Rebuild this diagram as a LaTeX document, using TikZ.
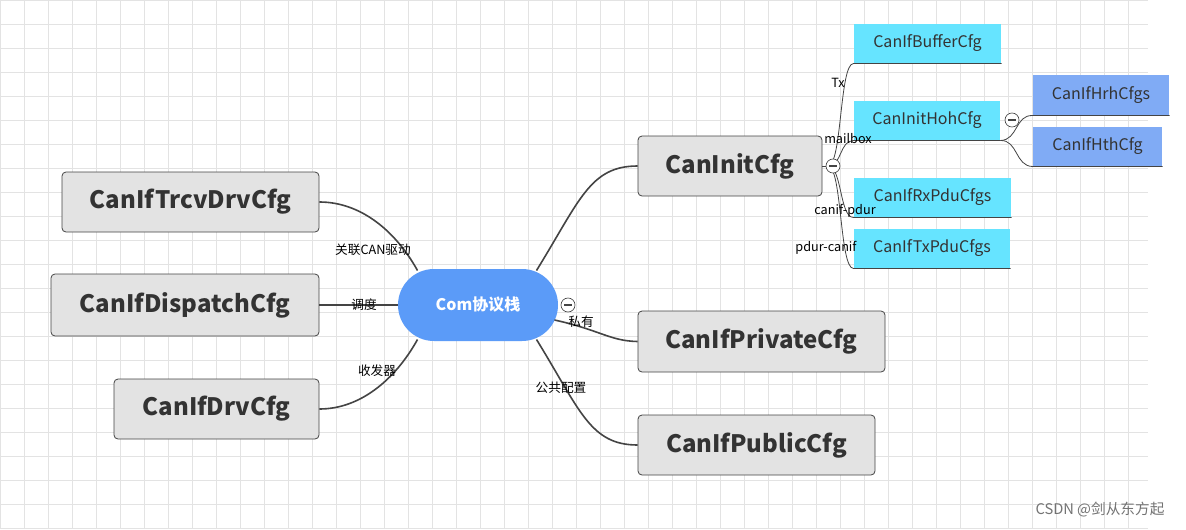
\documentclass[tikz,border=0pt]{standalone}
\usepackage{fontspec}
\setmainfont{Noto Sans CJK SC}
\usetikzlibrary{calc}
\tikzset{every picture/.style={line width=0.75pt}}
\definecolor{gridc}{HTML}{E3E3E3}
\definecolor{rootc}{HTML}{5B9BF8}
\definecolor{greyc}{HTML}{E3E3E3}
\definecolor{cyanc}{HTML}{66E4FF}
\definecolor{bluec}{HTML}{80ABF5}
\definecolor{linec}{HTML}{444444}
\tikzset{
  big/.style={draw=linec,fill=greyc,rounded corners=3pt,line width=0.6pt,inner sep=0pt,font=\fontsize{18}{20}\selectfont\bfseries,text=black!80},
  leaf/.style={fill=#1,inner sep=0pt,font=\fontsize{12}{14}\selectfont,text=black!80},
  lab/.style={inner sep=0.75pt,font=\fontsize{9.5}{11}\selectfont},
  fold/.style={draw=linec,fill=white,circle,minimum size=10.5pt,inner sep=0pt,line width=0.5pt},
  link/.style={draw=linec,line width=1.2pt},
  thin/.style={draw=linec,line width=0.6pt}
}
\begin{document}
\begin{tikzpicture}[x=0.75pt,y=0.75pt,yscale=-1,xscale=1]
\useasboundingbox (0,0) rectangle (1186,529);
%grid background
\fill[white] (0,0) rectangle (1186,529);
\draw[gridc,line width=0.5pt,step=18pt] (0,0) grid (1148,529);
%root
\node[fill=rootc,rounded corners=36*0.75pt,minimum width=120pt,minimum height=54pt,text=white,font=\fontsize{12}{14}\selectfont\bfseries] (com) at (478,305) {Com协议栈};
%left branch
\node[big,minimum width=192.75pt,minimum height=45pt] (trcv) at (190.5,202) {CanIfTrcvDrvCfg};
\node[big,minimum width=201pt,minimum height=46.5pt] (disp) at (185,305) {CanIfDispatchCfg};
\node[big,minimum width=153.75pt,minimum height=45pt] (drv) at (216.5,409) {CanIfDrvCfg};
\draw[link] (com.north west) ++(20,2) coordinate (c1) .. controls (395,230) and (360,202) .. (trcv.east);
\draw[link] (com.west) -- (disp.east);
\draw[link] (com.south west) ++(20,-2) coordinate (c2) .. controls (395,380) and (360,409) .. (drv.east);
\node[lab] (l1) at (373,250) {关联CAN驱动};
\node[lab] (l2) at (364,305) {调度};
\node[lab] (l3) at (377,371) {收发器};
%right branch
\node[big,minimum width=138pt,minimum height=45pt] (init) at (730,166) {CanInitCfg};
\node[big,minimum width=185.25pt,minimum height=45.75pt] (priv) at (761.5,341.5) {CanIfPrivateCfg};
\node[big,minimum width=177.75pt,minimum height=45pt] (pub) at (756.5,445) {CanIfPublicCfg};
\draw[link] (com.north east) ++(-22,2) coordinate (c3) .. controls (580,200) and (590,166) .. (init.west);
\draw[link] (com.east) ++(-4,15) coordinate (c4) .. controls (600,330) and (610,341) .. (priv.west);
\draw[link] (com.south east) ++(-22,-2) coordinate (c5) .. controls (580,410) and (590,445) .. (pub.west);
\node[fold] (f0) at (568,305) {};
\draw[linec,line width=0.8pt] (f0.center) ++(-4,0) -- ++(8,0);
\node[lab] (l4) at (581,322) {私有};
\node[lab] (l5) at (561,388) {公共配置};
%CanInitCfg children
\node[leaf=cyanc,minimum width=110.25pt,minimum height=29.25pt] (buf) at (927.5,43.5) {CanIfBufferCfg};
\node[leaf=cyanc,minimum width=109.5pt,minimum height=29.25pt] (hoh) at (927,120.5) {CanInitHohCfg};
\node[leaf=cyanc,minimum width=117.75pt,minimum height=29.25pt] (rx) at (932.5,197.5) {CanIfRxPduCfgs};
\node[leaf=cyanc,minimum width=117pt,minimum height=29.25pt] (tx) at (932,248.5) {CanIfTxPduCfgs};
\coordinate (k0) at (828,166);
\foreach \n in {buf,hoh,rx,tx}{
  \draw[thin] (k0) .. controls ($(k0)+(14,0)$) and ($(\n.south west)+(-14,0)$) .. (\n.south west) -- (\n.south east);
}
\draw[thin] (init.east) -- (k0);
\node[fold] (f1) at (833,166) {};
\draw[linec,line width=0.8pt] (f1.center) ++(-4,0) -- ++(8,0);
\node[lab] (t1) at (838,83) {Tx};
\node[lab] (t2) at (848,139) {mailbox};
\node[lab] (t3) at (845,211) {canif-pdur};
\node[lab] (t4) at (826,248) {pdur-canif};
%CanInitHohCfg children
\node[leaf=bluec,minimum width=102pt,minimum height=30pt] (hrh) at (1101,95) {CanIfHrhCfgs};
\node[leaf=bluec,minimum width=96.75pt,minimum height=29.25pt] (hth) at (1097.5,146.5) {CanIfHthCfg};
\draw[thin] (hoh.south east) .. controls (1018,140) and (1015,115) .. (hrh.south west) -- (hrh.south east);
\draw[thin] (hoh.south east) .. controls (1018,140) and (1015,166) .. (hth.south west) -- (hth.south east);
\node[fold] (f2) at (1012,120) {};
\draw[linec,line width=0.8pt] (f2.center) ++(-4,0) -- ++(8,0);
%watermark
\node[lab,text=black!55,font=\fontsize{11}{13}\selectfont] (wm) at (1100,510) {CSDN @剑从东方起};
\end{tikzpicture}
\end{document}
